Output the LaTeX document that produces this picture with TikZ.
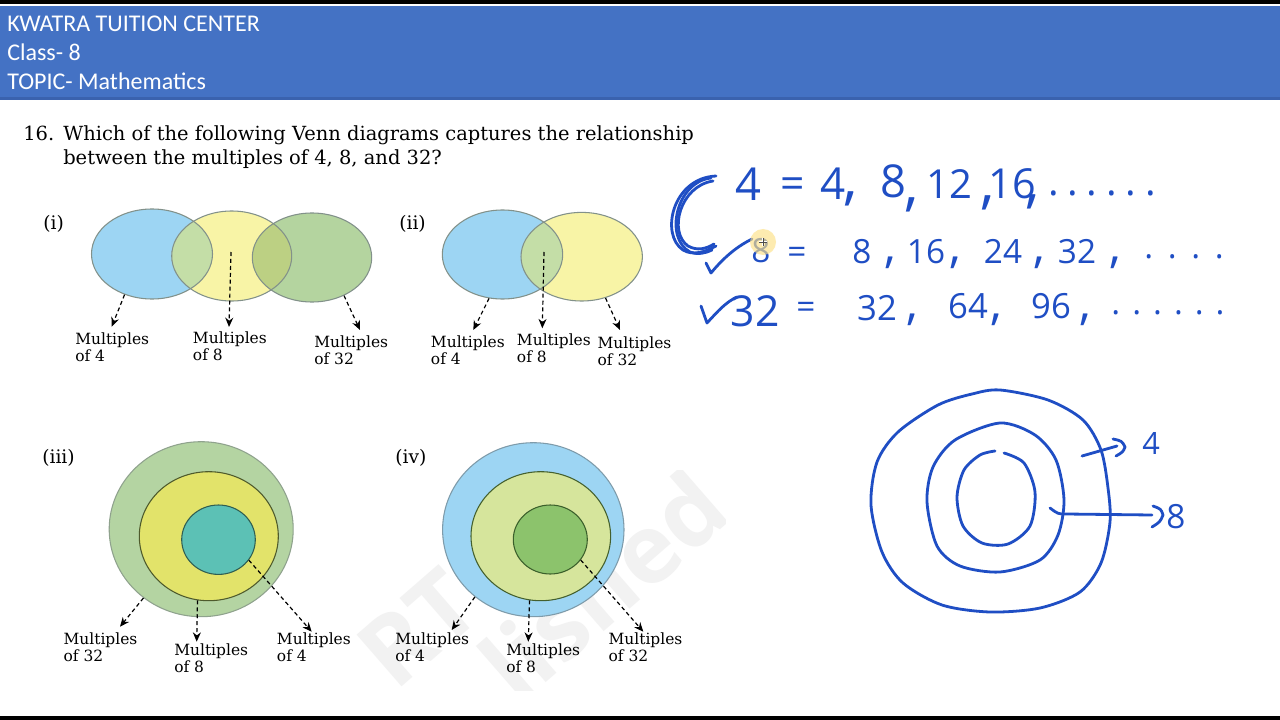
\documentclass[tikz,border=0pt]{standalone}
\usepackage{fontspec}
\usetikzlibrary{shapes.geometric,arrows.meta}
\newfontfamily\hdrfont{Carlito}
\newfontfamily\qfont{DejaVu Serif}
\newfontfamily\hwfont{Open Sans}
\definecolor{hdrblue}{HTML}{4472C4}
\definecolor{hdrline}{HTML}{3A62AE}
\definecolor{vBlue}{HTML}{9DD5F3}
\definecolor{vYel}{HTML}{F8F4A6}
\definecolor{vGrn}{HTML}{B4D49F}
\definecolor{vBY}{HTML}{C4DEA7}
\definecolor{vYG}{HTML}{BCD083}
\definecolor{vLine}{HTML}{82918A}
\definecolor{oGrn}{HTML}{B4D4A2}
\definecolor{oGrnL}{HTML}{8FA28D}
\definecolor{mYel}{HTML}{E2E36A}
\definecolor{mYelL}{HTML}{4E5A2C}
\definecolor{iTeal}{HTML}{5CC1B5}
\definecolor{iTealL}{HTML}{2F5E52}
\definecolor{oBlu}{HTML}{9DD5F3}
\definecolor{oBluL}{HTML}{7E9BAA}
\definecolor{mLg}{HTML}{D6E59C}
\definecolor{mLgL}{HTML}{44602E}
\definecolor{iGr}{HTML}{8CC36C}
\definecolor{iGrL}{HTML}{3B5F2B}
\definecolor{ink}{HTML}{1F4EC4}
\newcommand\mlab[4]{\node[lbl] (#1) at (#2,#3) {Multiples};\node[lbl] (#1b) at (#2,#3+17) {of #4};}
\begin{document}
\begin{tikzpicture}[x=0.75pt,y=-0.75pt,
  hdrtxt/.style={anchor=base west,inner sep=0pt,text=white,font=\hdrfont\fontsize{18}{20}\selectfont},
  qtxt/.style={anchor=base west,inner sep=0pt,font=\qfont\fontsize{14.6}{17}\selectfont},
  rom/.style={anchor=base west,inner sep=0pt,font=\qfont\fontsize{14}{17}\selectfont},
  lbl/.style={anchor=base west,inner sep=0pt,font=\qfont\fontsize{11.6}{13}\selectfont},
  ell/.style 2 args={ellipse,inner sep=0pt,minimum width=#1*0.75pt,minimum height=#2*0.75pt},
  arr/.style={line width=0.9pt,dash pattern=on 3pt off 2.2pt,-{Stealth[length=7pt,width=6pt]}},
  hw/.style={inner sep=0pt,text=ink,font=\hwfont\fontsize{#1}{#1}\selectfont},
  hw/.default=30,
  stroke/.style={draw=ink,line width=2.1pt,line cap=round,line join=round},
  wm/.style={inner sep=0pt,text=black!5,font=\hwfont\bfseries\fontsize{72}{72}\selectfont}]
\useasboundingbox (0,0) rectangle (1280,720);
\fill[white] (0,0) rectangle (1280,720);
% header
\fill[black] (0,0) rectangle (1280,4);
\fill[hdrblue] (0,6) rectangle (1280,100);
\fill[hdrline] (0,97) rectangle (1280,100);
\fill[black] (0,716) rectangle (1280,720);
\node[hdrtxt] (h1) at (7,32) {KWATRA TUITION CENTER};
\node[hdrtxt] (h2) at (7,61) {Class- 8};
\node[hdrtxt] (h3) at (7,90) {TOPIC- Mathematics};
% question
\node[qtxt] (qn) at (23,141) {16.};
\node[qtxt] (q1) at (63,141) {Which of the following Venn diagrams captures the relationship};
\node[qtxt] (q2) at (63,165) {between the multiples of 4, 8, and 32?};
% watermark
\begin{scope}
\clip (330,470) rectangle (725,690);
\node[wm,rotate=41] (wm1) at (418,628) {RT};
\node[wm,rotate=41] (wm2) at (603,585) {lished};
\end{scope}
% ---------- (i)
\node[rom] (r1) at (43,229) {(i)};
\fill[vBlue] (152,254) ellipse [x radius=60.5,y radius=45];
\fill[vYel] (231.7,256) ellipse [x radius=60,y radius=45];
\fill[vGrn] (312,257.5) ellipse [x radius=59.7,y radius=44.5];
\begin{scope}
\clip (152,254) ellipse [x radius=60.5,y radius=45];
\fill[vBY] (231.7,256) ellipse [x radius=60,y radius=45];
\end{scope}
\begin{scope}
\clip (231.7,256) ellipse [x radius=60,y radius=45];
\fill[vYG] (312,257.5) ellipse [x radius=59.7,y radius=44.5];
\end{scope}
\node[ell={121}{90},draw=vLine,line width=0.8pt] (e1) at (152,254) {};
\node[ell={120}{90},draw=vLine,line width=0.8pt] (e2) at (231.7,256) {};
\node[ell={119.4}{89},draw=vLine,line width=0.8pt] (e3) at (312,257.5) {};
\coordinate (s12) at (231,252);
\coordinate (t11) at (111.7,326.7);
\coordinate (t12) at (229,327);
\coordinate (t13) at (360,330);
\draw[arr] (e1.236) -- (t11);
\draw[arr] (s12) -- (t12);
\draw[arr] (e3.310) -- (t13);
\mlab{l11}{75}{344}{4}
\mlab{l12}{192.7}{343}{8}
\mlab{l13}{314}{347}{32}
% ---------- (ii)
\node[rom] (r2) at (399,229) {(ii)};
\fill[vBlue] (502.5,254.5) ellipse [x radius=60.2,y radius=44.5];
\fill[vYel] (581.7,256.7) ellipse [x radius=60.7,y radius=44.3];
\begin{scope}
\clip (502.5,254.5) ellipse [x radius=60.2,y radius=44.5];
\fill[vBY] (581.7,256.7) ellipse [x radius=60.7,y radius=44.3];
\end{scope}
\node[ell={120.4}{89},draw=vLine,line width=0.8pt] (f1) at (502.5,254.5) {};
\node[ell={121.4}{88.6},draw=vLine,line width=0.8pt] (f2) at (581.7,256.7) {};
\coordinate (s22) at (544,252);
\coordinate (t21) at (473.3,330);
\coordinate (t22) at (542.3,328.3);
\coordinate (t23) at (620,330);
\draw[arr] (f1.253) -- (t21);
\draw[arr] (s22) -- (t22);
\draw[arr] (f2.300) -- (t23);
\mlab{l21}{430.7}{347}{4}
\mlab{l22}{516.7}{345}{8}
\mlab{l23}{597.3}{348}{32}
% ---------- (iii)
\node[rom] (r3) at (42,463.5) {(iii)};
\node[ell={184}{175},fill=oGrn,draw=oGrnL,line width=0.8pt] (g1) at (201.2,529.2) {};
\node[ell={139}{129},fill=mYel,draw=mYelL,line width=0.8pt] (g2) at (208.8,536.2) {};
\node[ell={73.6}{69.4},fill=iTeal,draw=iTealL,line width=0.8pt] (g3) at (218.5,539.7) {};
\coordinate (t31) at (120,626.7);
\coordinate (t32) at (196.7,641.7);
\coordinate (t33) at (311.7,631.7);
\draw[arr] (g1.230) -- (t31);
\draw[arr] (g2.260) -- (t32);
\draw[arr] (g3.326) -- (t33);
\mlab{l31}{63.3}{644}{32}
\mlab{l32}{174}{655}{8}
\mlab{l33}{276.7}{644}{4}
% ---------- (iv)
\node[rom] (r4) at (395,463.5) {(iv)};
\node[ell={181.4}{174},fill=oBlu,draw=oBluL,line width=0.8pt] (k1) at (533.3,529.7) {};
\node[ell={139.6}{129},fill=mLg,draw=mLgL,line width=0.8pt] (k2) at (540.8,536.2) {};
\node[ell={74}{69},fill=iGr,draw=iGrL,line width=0.8pt] (k3) at (550.3,539.5) {};
\coordinate (t41) at (451.7,630);
\coordinate (t42) at (528.3,641.7);
\coordinate (t43) at (643.3,631.7);
\draw[arr] (k1.229) -- (t41);
\draw[arr] (k2.260) -- (t42);
\draw[arr] (k3.326) -- (t43);
\mlab{l41}{395}{644}{4}
\mlab{l42}{506}{655}{8}
\mlab{l43}{608.3}{644}{32}
% ---------- handwriting
% bracket
\draw[stroke] (716,176) .. controls (672,178) and (660,235) .. (683,250) .. controls (693,256) and (705,252) .. (716,246);
\draw[stroke] (713,181) .. controls (680,186) and (668,232) .. (688,246) .. controls (697,251) and (706,249) .. (714,244);
\draw[stroke] (711,178) .. controls (676,182) and (664,238) .. (690,252) .. controls (698,255) and (706,253) .. (712,250);
% row 1
\node[hw=34] (a1) at (748,184) {4};
\node[hw=32] (a2) at (793,188) {=};
\node[hw=33] (a3) at (833,184) {4};
\node[hw=44] (a4) at (851,199) {,};
\node[hw=34] (a5) at (893,181) {8};
\node[hw=44] (a6) at (912,205) {,};
\node[hw=30] (a7) at (949,184) {12};
\node[hw=44] (a8) at (988,203) {,};
\node[hw=31] (a9) at (1012,184) {16};
\node[hw=44] (a10) at (1033,202) {,};
\node[hw=30] (a11) at (1102,193) {.\hspace{6.6pt}.\hspace{6.6pt}.\hspace{6.6pt}.\hspace{6.6pt}.\hspace{6.6pt}.};
% row 2
\draw[stroke] (706,263) .. controls (709,268) .. (711,273) .. controls (725,256) and (738,246) .. (752,239);
\node[hw=25] (b1) at (761,251) {8};
\node[hw=25] (b2) at (797,255) {=};
\node[hw=25] (b3) at (862,252) {8};
\node[hw=36] (b4) at (890,263) {,};
\node[hw=25] (b5) at (926,252) {16};
\node[hw=36] (b6) at (955,263) {,};
\node[hw=25] (b7) at (1003,251) {24};
\node[hw=36] (b8) at (1039,263) {,};
\node[hw=25] (b9) at (1077,252) {32};
\node[hw=36] (b10) at (1115,263) {,};
\node[hw=25] (b11) at (1184,257) {.\hspace{11pt}.\hspace{11pt}.\hspace{11pt}.};
% cursor highlight
\fill[yellow!55!orange!45,opacity=0.65] (763,242) circle[radius=13];
\draw[white,line width=1.4pt] (759,242) -- (767,242) (763,238) -- (763,246);
\draw[black!70,line width=0.5pt] (759,242) -- (767,242) (763,238) -- (763,246);
% row 3
\draw[stroke] (701,306) .. controls (704,314) .. (707,323) .. controls (718,311) and (726,302) .. (737,297);
\node[hw=32] (c1) at (755,311) {32};
\node[hw=25] (c2) at (806,310) {=};
\node[hw=26] (c3) at (877,308) {32};
\node[hw=36] (c4) at (912,320) {,};
\node[hw=26] (c5) at (968,306) {64};
\node[hw=36] (c6) at (996,320) {,};
\node[hw=26] (c7) at (1051,306) {96};
\node[hw=36] (c8) at (1085,320) {,};
\node[hw=25] (c9) at (1168,313) {.\hspace{9pt}.\hspace{9pt}.\hspace{9pt}.\hspace{9pt}.\hspace{9pt}.};
% hand-drawn circles
\draw[stroke] plot[smooth cycle] coordinates {(1000,390) (1048,400) (1083,420) (1101,450) (1108,488) (1110,522) (1101,563) (1080,592) (1040,608) (990,612) (942,605) (903,583) (882,552) (871,505) (877,462) (898,432) (938,405) (972,394)};
\draw[stroke] plot[smooth cycle] coordinates {(1000,423) (1035,435) (1056,460) (1064,500) (1058,535) (1040,560) (1000,572) (960,566) (937,546) (927,502) (933,467) (955,440)};
\draw[stroke] plot[smooth] coordinates {(1004,453) (1024,463) (1035,492) (1030,526) (1008,544) (982,543) (963,526) (957,497) (964,470) (980,455) (995,451)};
% labels on hand circles
\coordinate (u1) at (1082,456);
\coordinate (u2) at (1117,446);
\draw[stroke] (u1) -- (u2);
\draw[stroke] (1113,439) .. controls (1122,441) .. (1125,447) .. controls (1123,452) .. (1116,456);
\node[hw=23] (d4) at (1151,443) {4};
\coordinate (v1) at (1050,508);
\coordinate (v2) at (1152,515);
\draw[stroke] (v1) .. controls (1058,514) .. (1066,514) -- (v2);
\draw[stroke] (1153,506) .. controls (1161,509) .. (1163,515) .. controls (1160,522) .. (1152,527);
\node[hw=25] (d8) at (1176,516.5) {8};
\end{tikzpicture}
\end{document}
